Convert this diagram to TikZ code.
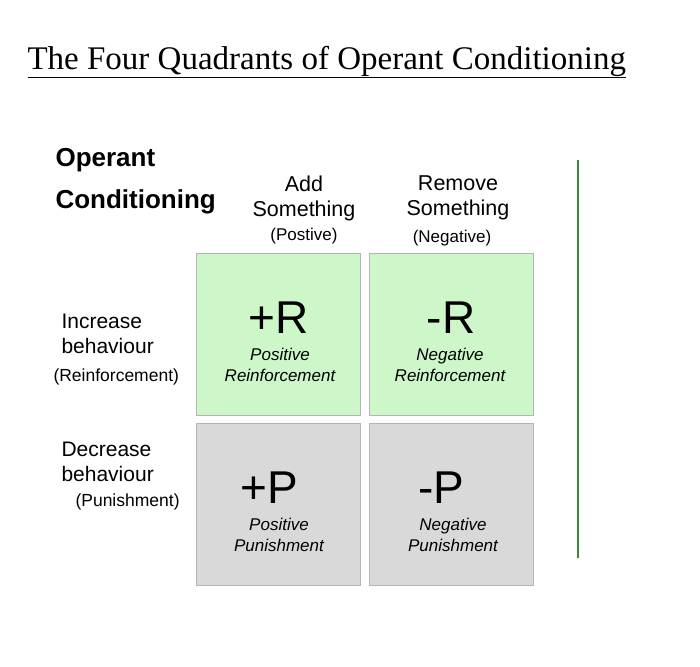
\documentclass[tikz,border=0pt]{standalone}
\usepackage{fontspec}
\setmainfont{Liberation Sans}
\newfontfamily\titlefont{Liberation Serif}
\definecolor{qgreen}{HTML}{CDF7C9}
\definecolor{qgray}{HTML}{D9D9D9}
\definecolor{qedge}{HTML}{B5B5B5}
\definecolor{vline}{HTML}{3C8A3C}
\begin{document}
\begin{tikzpicture}[x=1pt,y=-1pt,
  quad/.style={draw=qedge,line width=1pt,minimum width=164pt,minimum height=162pt,anchor=north west},
  big/.style={font=\fontsize{46}{48}\selectfont},
  sub/.style={font=\itshape\fontsize{17}{21}\selectfont,align=center},
  head/.style={font=\fontsize{21.5}{25}\selectfont,align=center},
  lab/.style={font=\fontsize{21}{25}\selectfont,align=left}]
\useasboundingbox (0,0) rectangle (700,666);
\node[font=\titlefont\fontsize{33}{36}\selectfont,anchor=west] (title) at (24,62) {\underline{The Four Quadrants of Operant Conditioning}};
\node[font=\bfseries\fontsize{26}{42}\selectfont,align=left,anchor=north west] (oc) at (52,145) {Operant\\Conditioning};
\node[head] (add) at (304,198) {Add\\Something};
\node[font=\fontsize{17}{20}\selectfont] (addp) at (304,236) {(Postive)};
\node[head] (rem) at (458,198) {Remove\\Something};
\node[font=\fontsize{17}{20}\selectfont] (remp) at (452,238) {(Negative)};
\node[quad,fill=qgreen] (q1) at (196,253) {};
\node[quad,fill=qgreen] (q2) at (369,253) {};
\node[quad,fill=qgray] (q3) at (196,423) {};
\node[quad,fill=qgray] (q4) at (369,423) {};
\node[big] (pr) at (279,318) {+R};
\node[sub] (prt) at (280,365) {Positive\\Reinforcement};
\node[big] (nr) at (451,318) {-R};
\node[sub] (nrt) at (450,365) {Negative\\Reinforcement};
\node[big] (pp) at (269,488) {+P};
\node[sub] (ppt) at (279,535) {Positive\\Punishment};
\node[big] (np) at (441,488) {-P};
\node[sub] (npt) at (453,535) {Negative\\Punishment};
\node[lab,anchor=north west] (inc) at (58,311) {Increase\\behaviour};
\node[font=\fontsize{17.5}{20}\selectfont,anchor=west] (reinf) at (50,377) {(Reinforcement)};
\node[lab,anchor=north west] (dec) at (58,439) {Decrease\\behaviour};
\node[font=\fontsize{17.5}{20}\selectfont,anchor=west] (pun) at (72,502) {(Punishment)};
\coordinate (v1) at (578,160);
\coordinate (v2) at (578,558);
\draw[vline,line width=1.2pt] (v1) -- (v2);
\end{tikzpicture}
\end{document}
